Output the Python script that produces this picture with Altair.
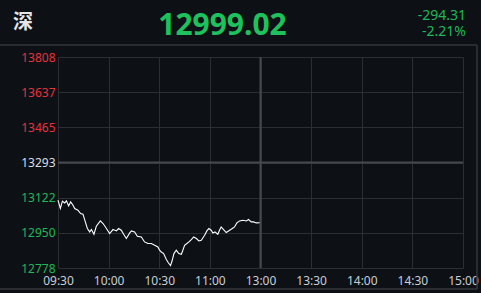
import altair as alt
import pandas as pd

# ---- data ----
minutes = [0, 1.4, 2.6, 4.0, 5.0, 6.3, 7.5, 8.9, 9.9, 11.8, 13.4, 14.8, 16.2, 17.4, 18.8, 19.8,
           21.3, 22.7, 25.1, 26.7, 28.7, 30.6, 32.6, 34.6, 35.9, 37.5, 38.9, 40.5, 42.5, 43.5,
           45.4, 47.0, 49.4, 51.3, 53.3, 55.3, 57.3, 59.2, 60.2, 61.2, 62.6, 64.2, 65.5, 66.7,
           67.7, 68.7, 70.1, 71.6, 73.1, 74.0, 75.0, 76.4, 77.6, 79.0, 80.4, 82.0, 83.5, 84.9,
           86.9, 88.2, 89.4, 90.8, 91.8, 93.0, 94.7, 95.7, 96.7, 98.1, 99.7, 101.7, 103.3, 104.6,
           106.0, 107.6, 109.6, 111.6, 112.9, 114.5, 115.9, 117.5, 119.5]
values = [13109.0, 13068.5, 13104.1, 13095.8, 13105.6, 13081.2, 13100.7, 13084.6, 13068.5, 13060.1,
          13044.0, 13040.6, 13003.0, 12970.7, 12954.1, 12965.8, 12942.8, 12981.9, 13007.8, 12995.1,
          12970.7, 12946.3, 12965.8, 12959.0, 12970.7, 12962.4, 12942.8, 12921.8, 12949.2, 12959.0,
          12954.1, 12933.1, 12929.6, 12905.2, 12897.4, 12897.4, 12889.1, 12880.8, 12864.6, 12856.3,
          12848.5, 12819.2, 12802.5, 12789.8, 12815.7, 12848.5, 12864.6, 12848.5, 12845.1, 12864.6,
          12889.1, 12897.4, 12905.2, 12916.9, 12929.6, 12921.8, 12910.1, 12913.5, 12937.9, 12959.0,
          12970.7, 12962.4, 12949.2, 12954.1, 12942.8, 12962.4, 12978.5, 12965.8, 12951.1, 12962.4,
          12970.7, 12978.5, 12998.1, 13007.8, 13011.3, 13007.8, 13014.7, 13003.0, 13003.0, 12998.1,
          12999.02]
y_ticks = [12778, 12950, 13122, 13293, 13465, 13637, 13808]
x_ticks = [0, 30, 60, 90, 120, 150, 180, 210, 240]
x_labels = ["09:30", "10:00", "10:30", "11:00", "13:00", "13:30", "14:00", "14:30", "15:00"]
prev_close = 13293.33
title_text = "深"
price_text = "12999.02"
change_text = "-294.31"
pct_text = "-2.21%"

BG = "#0d1015"
GRID = "#2c2e34"
STRONG = "#46484e"
RED = "#e8323c"
GREEN = "#1fb85a"
BIG_GREEN = "#1ec25c"
FONT = "Noto Sans"

df = pd.DataFrame({"m": minutes, "v": values})
one = pd.DataFrame({"a": [0]})

label_expr = "[" + ",".join("'%s'" % s for s in x_labels) + "][round(datum.value/30)]"

xs = alt.Scale(domain=[0, 240], nice=False, zero=False)
ys = alt.Scale(domain=[y_ticks[0], y_ticks[-1]], nice=False, zero=False)

x_axis = alt.Axis(values=x_ticks, tickCount=20, labelExpr=label_expr, title=None, domain=False,
                  ticks=False, grid=True, gridColor=GRID, gridWidth=1, labelColor="#c9ced6",
                  labelFont=FONT, labelFontSize=12, labelPadding=7, labelFlush=False,
                  labelOverlap=False)
y_axis = alt.Axis(values=y_ticks, tickCount=20, format="d", title=None, domain=False, ticks=False,
                  grid=True, gridColor=GRID, gridWidth=1, labelFont=FONT, labelFontSize=12,
                  labelPadding=3, labelOverlap=False, labelFlush=False,
                  labelColor={"expr": "datum.value > 13300 ? '%s' : (datum.value < 13290 ? '%s' : '#d8dee6')" % (RED, GREEN)})

base = alt.Chart(df).mark_line(color="white", strokeWidth=1.1, interpolate="linear").encode(
    x=alt.X("m:Q", scale=xs, axis=x_axis),
    y=alt.Y("v:Q", scale=ys, axis=y_axis),
)

mid_rule = alt.Chart(pd.DataFrame({"m": [120]})).mark_rule(color=STRONG, strokeWidth=2).encode(
    x=alt.X("m:Q", scale=xs))
close_rule = alt.Chart(pd.DataFrame({"v": [prev_close]})).mark_rule(color=STRONG, strokeWidth=2).encode(
    y=alt.Y("v:Q", scale=ys))

# frame lines (pixel offsets relative to plot origin at 58,57)
frame_h = alt.Chart(one).mark_rule(color="#34363c", strokeWidth=1.5).encode(
    x=alt.value(-58), x2=alt.value(419), y=alt.value(-12))
frame_r = alt.Chart(one).mark_rule(color="#34363c", strokeWidth=1.5).encode(
    x=alt.value(419), y=alt.value(-12), y2=alt.value(232))
frame_b = alt.Chart(one).mark_rule(color="#34363c", strokeWidth=1.5).encode(
    x=alt.value(-58), x2=alt.value(419), y=alt.value(232))

t_title = alt.Chart(one).mark_text(text=title_text, font="Noto Sans CJK SC", fontSize=20,
                                   fontWeight="bold", color="#e6e6e6", align="left",
                                   baseline="middle").encode(x=alt.value(-45), y=alt.value(-34))
t_price = alt.Chart(one).mark_text(text=price_text, font=FONT, fontSize=30, fontWeight="bold",
                                   color=BIG_GREEN, align="center", baseline="alphabetic").encode(
    x=alt.value(164.5), y=alt.value(-22.5))
t_chg = alt.Chart(one).mark_text(text=change_text, font=FONT, fontSize=14, color=GREEN,
                                 align="right", baseline="alphabetic").encode(
    x=alt.value(408), y=alt.value(-37))
t_pct = alt.Chart(one).mark_text(text=pct_text, font=FONT, fontSize=14, color=GREEN,
                                 align="right", baseline="alphabetic").encode(
    x=alt.value(408), y=alt.value(-21))

chart = alt.layer(mid_rule, close_rule, base, frame_h, frame_r, frame_b,
                  t_title, t_price, t_chg, t_pct).properties(
    width=405, height=211,
    padding={"left": 58, "top": 57, "right": 18, "bottom": 25},
    autosize=alt.AutoSizeParams(type="none"),
    background=BG,
).configure_view(stroke=None)

chart.save("out.html", embed_options={"renderer": "svg", "actions": False})
